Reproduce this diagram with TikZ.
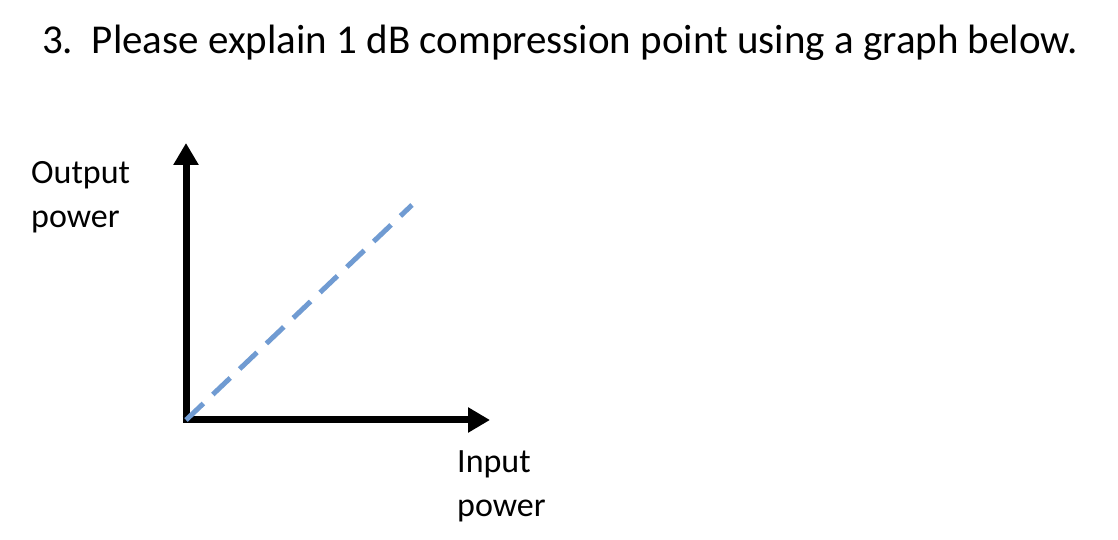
\documentclass[tikz,border=0pt]{standalone}
\usepackage{fontspec}
\setmainfont{Carlito}
\usetikzlibrary{arrows.meta}
\begin{document}
\begin{tikzpicture}[x=1pt,y=1pt,
  axis/.style={line width=7pt,-{Triangle[width=24pt,length=22pt]}},
  lbl/.style={anchor=north west,align=left,font=\fontsize{34}{44}\selectfont,inner sep=0pt}]
\useasboundingbox (0,0) rectangle (1118,540);
\coordinate (o) at (186,120);
\coordinate (ytip) at (186,397);
\coordinate (xtip) at (490,120);
\coordinate (dend) at (412,335);
\draw[axis] (o) -- (ytip);
\draw[axis] ([xshift=-3.5pt]o) -- (xtip);
\draw[line width=5pt,color={rgb,255:red,112;green,155;blue,210},dash pattern=on 24pt off 13pt] (o) -- (dend);
\node[anchor=base west,inner sep=0pt,font=\fontsize{41}{48}\selectfont] (title) at (42,486) {3.\ \ Please explain 1 dB compression point using a graph below.};
\node[lbl] (out) at (31,379) {Output\\power};
\node[lbl] (in) at (457,90) {Input\\power};
\end{tikzpicture}
\end{document}
